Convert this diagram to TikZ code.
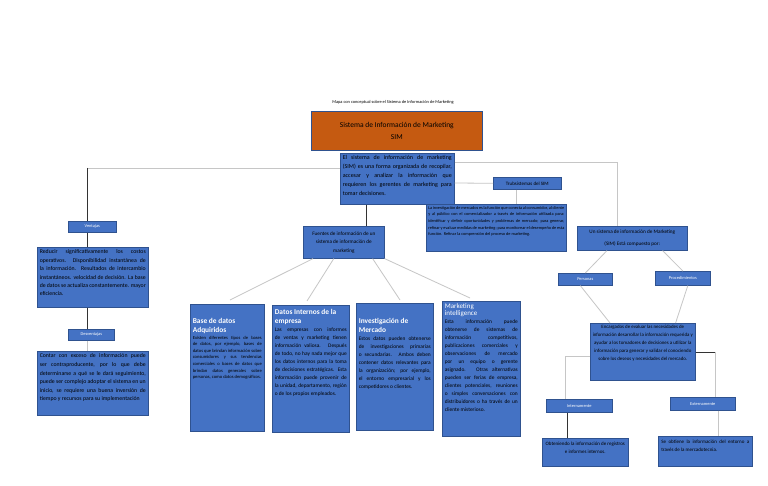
\documentclass[tikz,border=0pt]{standalone}
\usepackage{fontspec}
\setmainfont{Carlito}
\usepackage{ragged2e}
\definecolor{bb}{HTML}{4472C4}
\definecolor{bd}{HTML}{2F528F}
\definecolor{oo}{HTML}{C55A11}
\setlength{\parindent}{0pt}
\setlength{\JustifyingParindent}{0pt}
\hyphenpenalty=10000 \exhyphenpenalty=10000
\newcommand{\pb}[3]{\parbox[t][#2pt][t]{#1pt}{\hyphenpenalty=10000 \emergencystretch=20pt #3}}
\begin{document}
\begin{tikzpicture}[x=1pt,y=-1pt,
 box/.style={draw=bd,fill=bb,line width=0.6pt,inner sep=2pt,anchor=north west},
 lbl/.style={box,text=white,font=\fontsize{4.4}{5}\selectfont,align=center,inner sep=0pt},
 gl/.style={draw=gray!45,line width=0.8pt},
 bl/.style={draw=black!80,line width=1pt}]
\useasboundingbox (0,0) rectangle (768,486);
\fill[white] (0,0) rectangle (768,486);
\node (tit) at (393,102) {\fontsize{4.4}{5}\selectfont Mapa con conceptual sobre el Sistema de Información de Marketing};
\node[box,draw=bd,fill=oo,inner sep=0pt,minimum width=171pt,minimum height=39pt,align=center,font=\fontsize{7.5}{12}\selectfont] (sim) at (311,111) {Sistema de Información de Marketing\\SIM};
\node[box,inner sep=2.5pt] (cen) at (340,153) {\pb{109}{46}{\fontsize{6}{8.8}\selectfont\justifying El sistema de información de marketing (SIM) es una forma organizada de recopilar, accesar y analizar la información que requieren los gerentes de marketing para tomar decisiones.}};
\node[lbl,text=black,minimum width=68pt,minimum height=12pt,font=\fontsize{5}{5}\selectfont] (trub) at (493,177) {Trubsistemas del SIM};
\node[box,inner sep=2pt] (inv0) at (426,204) {\pb{136}{43}{\fontsize{4.3}{6.6}\selectfont\justifying La investigación de mercados es la función que conecta al consumidor, al cliente y al público con el comercializador a través de información utilizada para: identificar y definir oportunidades y problemas de mercado; para generar, refinar y evaluar medidas de marketing; para monitorear el desempeño de esta función. Refinar la comprensión del proceso de marketing.}};
\node[lbl,text=black,minimum width=110pt,minimum height=24pt,font=\fontsize{5.2}{12}\selectfont] (uns) at (577,226) {Un sistema de información de Marketing\\(SIM) Está compuesto por:};
\node[lbl,minimum width=54pt,minimum height=12pt] (per) at (558,273) {Personas};
\node[lbl,minimum width=55pt,minimum height=14pt] (pro) at (655,271) {Procedimientos};
\node[box,inner sep=2pt] (enc) at (590,323) {\pb{101}{53}{\centering\fontsize{4.9}{8}\selectfont Encargados de evaluar las necesidades de información desarrollar la información requerida y ayudar a los tomadores de decisiones a utilizar la información para generar y validar el conociendo sobre los deseos y necesidades del mercado.}};
\node[lbl,minimum width=66pt,minimum height=13pt] (intn) at (546,399) {Internamente};
\node[lbl,minimum width=65pt,minimum height=13pt] (extn) at (670,397) {Externamente};
\node[box,inner sep=3pt] (obt) at (542,438) {\pb{80}{22}{\centering\fontsize{5}{8}\selectfont\vspace{1pt}Obteniendo la información de registros e informes internos.}};
\node[box,inner sep=3pt] (seo) at (658,436) {\pb{88}{24}{\fontsize{5}{8}\selectfont\vspace{1pt}Se obtiene la información del entorno a través de la mercadotecnia.}};
\node[lbl,minimum width=48pt,minimum height=11pt] (ven) at (68,221) {Ventajas};
\node[box,inner sep=2.5pt] (red) at (37,247) {\pb{106}{55}{\fontsize{5.8}{8.4}\selectfont\justifying Reducir significativamente los costos operativos. Disponibilidad instantánea de la información. Resultados de intercambio instantáneos. velocidad de decisión. La base de datos se actualiza constantemente. mayor eficiencia.}};
\node[lbl,minimum width=46pt,minimum height=11pt] (des) at (68,329) {Desventajas};
\node[box,inner sep=2.5pt] (con) at (37,351) {\pb{106}{59}{\fontsize{5.8}{8.6}\selectfont\justifying Contar con exceso de información puede ser contraproducente, por lo que debe determinarse a qué se le dará seguimiento, puede ser complejo adoptar el sistema en un inicio, se requiere una buena inversión de tiempo y recursos para su implementación}};
\node[lbl,text=black,minimum width=81pt,minimum height=32pt,font=\fontsize{5.2}{8.5}\selectfont] (fue) at (303,226) {Fuentes de información de un\\sistema de información de\\marketing};
\node[box,inner sep=2.5pt] (bas) at (190,304) {\pb{69}{122}{\vspace{12pt}{\color{white}\bfseries\fontsize{7.4}{8.5}\selectfont Base de datos\\Adquiridos\par}\fontsize{4.6}{6.6}\selectfont\justifying Existen diferentes tipos de bases de datos, por ejemplo, bases de datos que brindan información sobre consumidores y sus tendencias comerciales o bases de datos que brindan datos generales sobre personas, como datos demográficos.}};
\node[box,inner sep=2.5pt] (dat) at (272,305) {\pb{72}{122}{\vspace{2pt}{\color{white}\bfseries\fontsize{7.4}{8.5}\selectfont Datos Internos de la\\empresa\par}\fontsize{5.4}{8}\selectfont\justifying Las empresas con informes de ventas y marketing tienen información valiosa. Después de todo, no hay nada mejor que los datos internos para la toma de decisiones estratégicas. Esta información puede provenir de la unidad, departamento, región o de los propios empleados.}};
\node[box,inner sep=2.5pt] (ime) at (356,303) {\pb{72}{122}{\vspace{12pt}{\color{white}\bfseries\fontsize{7.4}{9}\selectfont Investigación de\\Mercado\par}\fontsize{5.4}{8}\selectfont\justifying Estos datos pueden obtenerse de investigaciones primarias o secundarias. Ambos deben contener datos relevantes para la organización; por ejemplo, el entorno empresarial y los competidores o clientes.}};
\node[box,inner sep=2.5pt] (mki) at (442,301) {\pb{73}{130}{\vspace{0pt}{\color{white}\fontsize{7}{7.2}\selectfont Marketing\\intelligence\par}\fontsize{5.4}{8}\selectfont\justifying Esta información puede obtenerse de sistemas de información competitivos, publicaciones comerciales y observaciones de mercado por un equipo o gerente asignado. Otras alternativas pueden ser ferias de empresa, clientes potenciales, reuniones o simples conversaciones con distribuidores o ha través de un cliente misterioso.}};
% connectors
\draw[gl] (cen.west|-0,168) -- (87,168);
\draw[bl] (87,168) -- (ven.north-|87,0);
\draw[bl] (ven.south-|87,0) -- (red.north-|87,0);
\draw[bl] (red.south-|87,0) -- (des.north-|87,0);
\draw[gl] (des.south-|87,0) -- (con.north-|87,0);
\draw[gl] (cen.east|-0,162) -- (617,162) -- (uns.north-|617,0);
\draw[gl] (cen.east|-0,183) -- (trub.west);
\draw[gl] (trub.south-|516,0) -- (inv0.north-|516,0);
\draw[bl] (cen.south-|366,0) -- (fue.north-|366,0);
\draw[gl] ([xshift=10pt]fue.south west) -- (230,300);
\draw[gl] ([xshift=-10pt]fue.south) -- (307,301);
\draw[gl] ([xshift=-12pt]fue.south east) -- (400,300);
\draw[gl] (fue.south east) -- (470,298);
\draw[gl] ([xshift=30pt]uns.south west) -- (per.north);
\draw[gl] ([xshift=-25pt]uns.south east) -- (pro.north);
\draw[gl] ([xshift=-5pt]per.south) -- ([xshift=20pt]enc.north west);
\draw[gl] ([xshift=5pt]pro.south) -- ([xshift=-20pt]enc.north east);
\draw[gl] (enc.west|-0,356) -- (565,356) -- (intn.north-|565,0);
\draw[bl] (enc.east|-0,352) -- (715,352);
\draw[gl] (715,352) -- (extn.north-|715,0);
\draw[bl] (intn.south-|567,0) -- (obt.north-|567,0);
\draw[gl] (extn.south-|718,0) -- (seo.north-|718,0);
\end{tikzpicture}
\end{document}
